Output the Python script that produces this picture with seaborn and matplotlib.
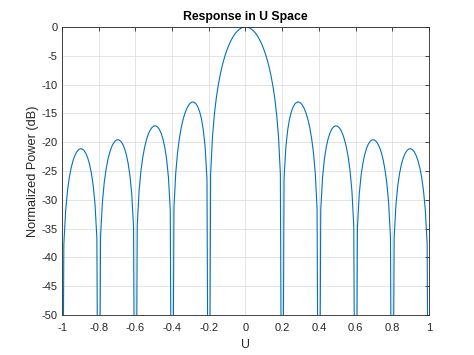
import numpy as np
import matplotlib
matplotlib.use("Agg")
import matplotlib.pyplot as plt
import seaborn as sns
import pandas as pd

# ---- data ----
u_values = np.round(np.linspace(-1.0, 1.0, 201), 2)

power_db = [
    -100, -37.76, -31.80, -28.40, -26.10, -24.44, -23.21, -22.32, -21.69, -21.30,
    -21.13, -21.18, -21.44, -21.94, -22.71, -23.81, -25.35, -27.52, -30.79, -36.62,
    -100, -36.47, -30.48, -27.06, -24.74, -23.04, -21.78, -20.85, -20.21, -19.79,
    -19.58, -19.60, -19.83, -20.29, -21.03, -22.10, -23.60, -25.73, -28.96, -34.76,
    -100, -34.52, -28.48, -25.03, -22.66, -20.91, -19.61, -18.63, -17.93, -17.46,
    -17.20, -17.16, -17.34, -17.74, -18.42, -19.42, -20.86, -22.92, -26.08, -31.80,
    -100, -31.40, -25.29, -21.74, -19.28, -17.44, -16.04, -14.96, -14.16, -13.56,
    -13.19, -13.02, -13.06, -13.32, -13.85, -14.70, -15.96, -17.85, -20.82, -26.34,
    -100, -25.49, -19.12, -15.29, -12.53, -10.37, -8.62, -7.14, -5.89, -4.82,
    -3.89, -3.09, -2.40, -1.81, -1.31, -0.90, -0.58, -0.32, -0.14, -0.03,
    0.00,
    -0.03, -0.14, -0.32, -0.58, -0.90, -1.31, -1.81, -2.40, -3.09, -3.89,
    -4.82, -5.89, -7.14, -8.62, -10.37, -12.53, -15.29, -19.12, -25.49, -100,
    -26.34, -20.82, -17.85, -15.96, -14.70, -13.85, -13.32, -13.06, -13.02, -13.19,
    -13.56, -14.16, -14.96, -16.04, -17.44, -19.28, -21.74, -25.29, -31.40, -100,
    -31.80, -26.08, -22.92, -20.86, -19.42, -18.42, -17.74, -17.34, -17.16, -17.20,
    -17.46, -17.93, -18.63, -19.61, -20.91, -22.66, -25.03, -28.48, -34.52, -100,
    -34.76, -28.96, -25.73, -23.60, -22.10, -21.03, -20.29, -19.83, -19.60, -19.58,
    -19.79, -20.21, -20.85, -21.78, -23.04, -24.74, -27.06, -30.48, -36.47, -100,
    -36.62, -30.79, -27.52, -25.35, -23.81, -22.71, -21.94, -21.44, -21.18, -21.13,
    -21.30, -21.69, -22.32, -23.21, -24.44, -26.10, -28.40, -31.80, -37.76, -100,
]

x_ticks = [-1, -0.8, -0.6, -0.4, -0.2, 0, 0.2, 0.4, 0.6, 0.8, 1]
x_tick_labels = ["-1", "-0.8", "-0.6", "-0.4", "-0.2", "0", "0.2", "0.4", "0.6", "0.8", "1"]
y_ticks = [-50, -45, -40, -35, -30, -25, -20, -15, -10, -5, 0]
y_tick_labels = ["-50", "-45", "-40", "-35", "-30", "-25", "-20", "-15", "-10", "-5", "0"]

title_text = "Response in U Space"
x_label = "U"
y_label = "Normalized Power (dB)"

# ---- styling ----
sns.set_style("white")
plt.rcParams["font.family"] = ["Liberation Sans", "DejaVu Sans"]
plt.rcParams["axes.unicode_minus"] = False

df = pd.DataFrame({"U": u_values, "Power": power_db})

fig = plt.figure(figsize=(4.74, 3.55), dpi=100)
ax = fig.add_axes([62 / 474, 1 - 315 / 355, (429 - 62) / 474, (315 - 27) / 355])

sns.lineplot(data=df, x="U", y="Power", ax=ax, color="#0072BD",
             linewidth=0.8, estimator=None, sort=False)

ax.set_xlim(-1, 1)
ax.set_ylim(-50, 0)
ax.set_xticks(x_ticks)
ax.set_xticklabels(x_tick_labels)
ax.set_yticks(y_ticks)
ax.set_yticklabels(y_tick_labels)

ax.grid(True, color="#dfdfdf", linewidth=0.6)
ax.set_axisbelow(True)

for s in ax.spines.values():
    s.set_visible(True)
    s.set_color("#262626")
    s.set_linewidth(0.6)

ax.tick_params(axis="both", which="both", direction="in", length=3, width=0.6,
               color="#262626", labelsize=8, labelcolor="#262626",
               top=True, right=True)
ax.tick_params(axis="x", pad=5.5)
ax.tick_params(axis="y", pad=3)

ax.set_title(title_text, fontsize=8.8, fontweight="bold", color="black", pad=5)
ax.set_xlabel(x_label, fontsize=8.8, color="#262626", labelpad=4.5)
ax.set_ylabel(y_label, fontsize=9.2, color="#262626", labelpad=2)

fig.savefig("out.png", dpi=100, facecolor="white")
